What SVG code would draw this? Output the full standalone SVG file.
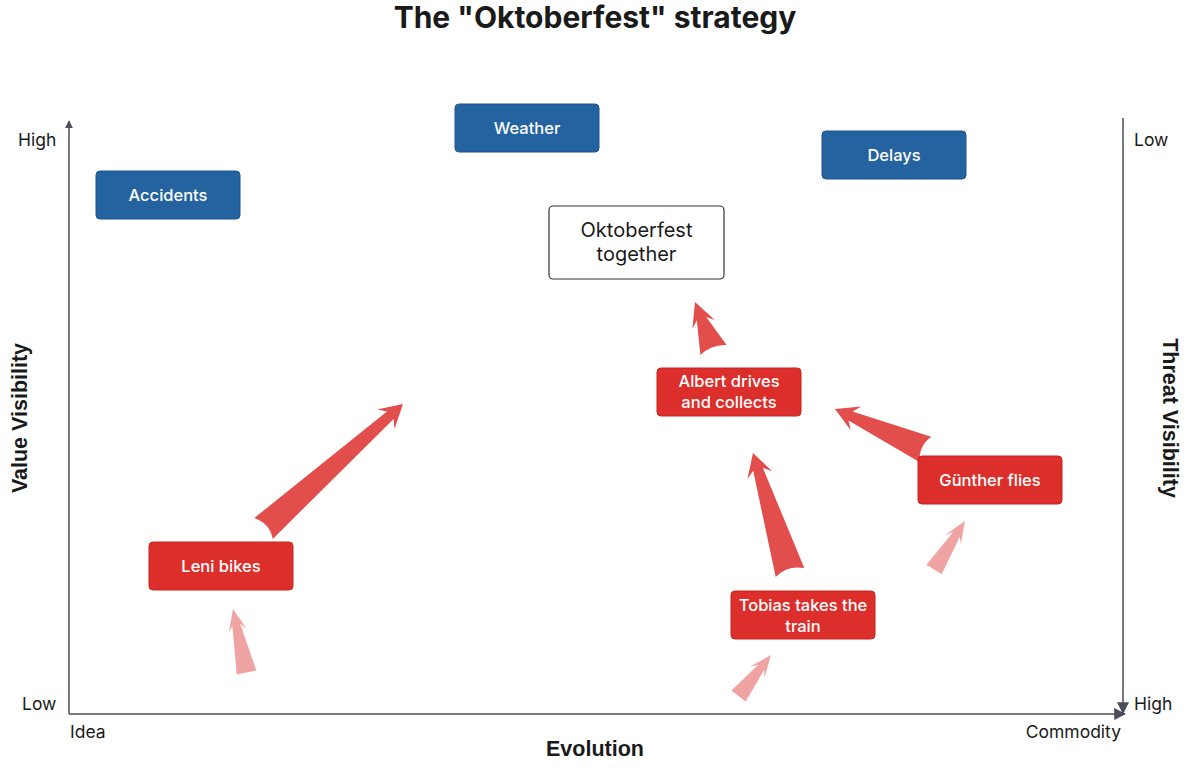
<svg xmlns="http://www.w3.org/2000/svg" width="1200" height="775" viewBox="0 0 1200 775">
<defs>
<style>
.title{font-family:Inter,"Liberation Sans",sans-serif;font-weight:bold;font-size:30px;fill:#1a1a1a;text-anchor:middle;}
.ax{font-family:"Liberation Sans",Arial,sans-serif;font-weight:bold;font-size:21.5px;fill:#1a1a1a;text-anchor:middle;}
.tick{font-family:Inter,"Liberation Sans",sans-serif;font-size:17.5px;fill:#1a1a1a;}
.axis{stroke:#4a4e5a;stroke-width:1.5;fill:none;}
.blue rect{fill:#2463a0;stroke:#1d5590;stroke-width:1;}
.red rect{fill:#dc2f2c;stroke:#c92420;stroke-width:1;}
.white rect{fill:#ffffff;stroke:#333;stroke-width:1.2;}
.nl{font-family:Inter,"Liberation Sans",sans-serif;font-size:16.5px;font-weight:500;fill:#ffffff;text-anchor:middle;}
.nd{font-family:Inter,"Liberation Sans",sans-serif;font-size:20px;fill:#1a1a1a;text-anchor:middle;}
.ev{fill:#dc2f2c;fill-opacity:0.85;}
.old{fill:#e04848;fill-opacity:0.5;}
</style>
<marker id="ah" viewBox="0 0 10 10" refX="9" refY="5" markerWidth="8" markerHeight="8" markerUnits="userSpaceOnUse" orient="auto">
<path d="M0,0 L10,5 L0,10 z" fill="#4a4e5a"/>
</marker>
<marker id="ah2" viewBox="0 0 10 10" refX="9" refY="5" markerWidth="12" markerHeight="12" markerUnits="userSpaceOnUse" orient="auto">
<path d="M0,0 L10,5 L0,10 z" fill="#4a4e5a"/>
</marker>
</defs>
<rect width="1200" height="775" fill="#ffffff"/>
<text class="title" x="595" y="28">The "Oktoberfest" strategy</text>
<g id="axes">
<line class="axis" x1="69" y1="714" x2="69" y2="121" marker-end="url(#ah)"/>
<line class="axis" x1="69" y1="714" x2="1125" y2="714" marker-end="url(#ah2)"/>
<line class="axis" x1="1123" y1="118" x2="1123" y2="713" marker-end="url(#ah2)"/>
<text class="tick" x="18" y="146">High</text>
<text class="tick" x="22" y="710">Low</text>
<text class="tick" x="70" y="738">Idea</text>
<text class="tick" x="1121" y="738" text-anchor="end">Commodity</text>
<text class="tick" x="1134" y="146">Low</text>
<text class="tick" x="1134" y="710">High</text>
<text class="ax" x="595" y="756">Evolution</text>
<text class="ax" transform="translate(27,418) rotate(-90)">Value Visibility</text>
<text class="ax" transform="translate(1163,418) rotate(90)">Threat Visibility</text>
</g>
<g id="connectors">
<path class="ev" d="M695,302 L714.8,320.1 L706.2,317.0 L726.6,345.0 Q711.3,344.4 700.4,355.0 L696.8,320.6 L692.4,328.7 Z"/>
<path class="ev" d="M753,453 L772.2,471.2 L762.8,467.7 L804.3,568.1 Q787.6,564.9 775.7,576.9 L753.2,470.7 L747.4,478.9 Z"/>
<path class="ev" d="M403,404 L394.5,429.0 L393.6,419.0 L272.8,538.9 Q269.5,523.2 254.2,518.1 L387.0,411.6 L377.1,409.6 Z"/>
<path class="ev" d="M835,409 L861.3,406.5 L852.5,411.4 L931.2,436.7 Q918.2,446.2 919.8,462.3 L848.5,420.6 L850.7,430.3 Z"/>
<path class="old" d="M233,609 L246.4,628.6 L240.2,623.8 L256.3,670.4 L236.7,674.6 L232.4,625.4 L228.8,632.4 Z"/>
<path class="old" d="M771,655 L764.4,677.8 L764.2,670.0 L745.6,701.6 L731.4,690.4 L758.0,665.0 L750.2,666.6 Z"/>
<path class="old" d="M965,521 L960.8,544.3 L959.8,536.7 L941.6,574.3 L926.4,564.7 L953.0,532.3 L945.6,534.7 Z"/>
</g>
<g id="accidents" class="blue"><rect x="96" y="171" width="144" height="48" rx="4"/><text class="nl" x="168" y="201">Accidents</text></g>
<g id="weather" class="blue"><rect x="455" y="104" width="144" height="48" rx="4"/><text class="nl" x="527" y="134">Weather</text></g>
<g id="delays" class="blue"><rect x="822" y="131" width="144" height="48" rx="4"/><text class="nl" x="894" y="161">Delays</text></g>
<g id="oktoberfest" class="white"><rect x="549" y="206" width="175" height="73" rx="4"/><text class="nd" x="636.5" y="237">Oktoberfest</text><text class="nd" x="636.5" y="261">together</text></g>
<g id="albert" class="red"><rect x="657" y="368" width="144" height="48" rx="4"/><text class="nl" x="729" y="387">Albert drives</text><text class="nl" x="729" y="408">and collects</text></g>
<g id="gunther" class="red"><rect x="918" y="456" width="144" height="48" rx="4"/><text class="nl" x="990" y="486">Günther flies</text></g>
<g id="leni" class="red"><rect x="149" y="542" width="144" height="48" rx="4"/><text class="nl" x="221" y="572">Leni bikes</text></g>
<g id="tobias" class="red"><rect x="731" y="591" width="144" height="48" rx="4"/><text class="nl" x="803" y="611">Tobias takes the</text><text class="nl" x="803" y="632">train</text></g>
</svg>
